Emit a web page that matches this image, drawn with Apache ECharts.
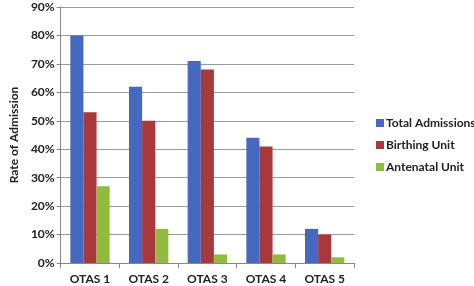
<!DOCTYPE html>
<html>
<head>
<meta charset="utf-8">
<script src="https://cdn.jsdelivr.net/npm/echarts@6/dist/echarts.min.js"></script>
<style>
html,body{margin:0;padding:0;background:#fff;}
#chart{width:474px;height:286px;}
</style>
</head>
<body>
<div id="chart"></div>
<script>
var categories=['OTAS 1','OTAS 2','OTAS 3','OTAS 4','OTAS 5'];
var totalAdmissions=[80,62,71,44,12];
var birthingUnit=[53,50,68,41,10];
var antenatalUnit=[27,12,3,3,2];
var seriesNames=['Total Admissions','Birthing Unit','Antenatal Unit'];

var font='Lato, "Liberation Sans", sans-serif';
var mychart=echarts.init(document.getElementById('chart'));
var option={
    animation:false,
    color:['#4568c1','#a7393a','#8fbb3e'],
    grid:{left:52,right:120,top:7,bottom:23},
    legend:{
        orient:'vertical',
        left:371,
        top:112,
        itemWidth:8,
        itemHeight:8,
        itemGap:10,
        icon:'rect',
        textStyle:{fontFamily:font,fontSize:12,fontWeight:'bold',color:'#222',padding:[0,0,0,-3]},
        data:seriesNames
    },
    xAxis:[{
        type:'category',
        data:categories,
        axisLine:{lineStyle:{color:'#888'}},
        axisTick:{show:true,length:5,lineStyle:{color:'#888'}},
        axisLabel:{fontFamily:font,fontSize:12,fontWeight:'bold',color:'#222',margin:10}
    }],
    yAxis:[{
        type:'value',
        min:0,
        max:90,
        interval:10,
        name:'Rate of Admission',
        nameLocation:'middle',
        nameGap:37,
        nameRotate:90,
        nameTextStyle:{fontFamily:font,fontSize:12,fontWeight:'bold',color:'#222'},
        axisLine:{show:true,lineStyle:{color:'#888'}},
        axisTick:{show:true,length:4,lineStyle:{color:'#888'}},
        axisLabel:{formatter:'{value}%',fontFamily:font,fontSize:12,fontWeight:'bold',color:'#222',margin:6},
        splitLine:{lineStyle:{color:'#999'}}
    }],
    series:[
        {name:seriesNames[0],type:'bar',data:totalAdmissions,barGap:'0%',barCategoryGap:'33%'},
        {name:seriesNames[1],type:'bar',data:birthingUnit,barGap:'0%',barCategoryGap:'33%'},
        {name:seriesNames[2],type:'bar',data:antenatalUnit,barGap:'0%',barCategoryGap:'33%'}
    ]
};
mychart.setOption(option);
</script>
</body>
</html>
